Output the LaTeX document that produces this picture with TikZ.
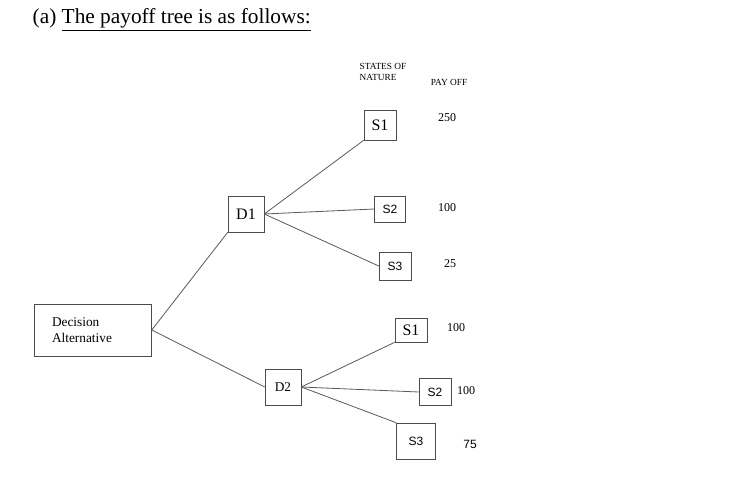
\documentclass[tikz,border=0pt]{standalone}
\usepackage{fontspec}
\setmainfont{Liberation Serif}
\newfontfamily\sansf{Liberation Sans}
\begin{document}
\begin{tikzpicture}[x=0.75pt,y=-0.75pt,
 bx/.style={draw=black!70,fill=white,inner sep=0pt,font=\large},
 ln/.style={draw=black!65,line width=0.6pt},
 lab/.style={font=\small}]
\useasboundingbox (0,0) rectangle (755,484);
\node[anchor=west,font=\fontsize{16}{18}\selectfont] (t) at (28,20) {(a) \underline{The payoff tree is as follows:}};
\node[font=\scriptsize,align=left,inner sep=0pt] (sn) at (383,72) {STATES OF\\NATURE};
\node[font=\scriptsize,inner sep=0pt] (po) at (449,82) {PAY OFF};
\node[bx,minimum width=117*0.75pt,minimum height=52*0.75pt,align=left,text width=82*0.75pt,font=\normalsize] (da) at (93,330) {Decision\\Alternative};
\node[bx,minimum size=36*0.75pt] (d1) at (246,214) {D1};
\node[bx,minimum size=36*0.75pt,font=\normalsize] (d2) at (283,387) {D2};
\node[bx,minimum width=32*0.75pt,minimum height=30*0.75pt] (s1) at (380,125) {S1};
\node[bx,minimum width=31*0.75pt,minimum height=26*0.75pt,font=\sansf\small] (s2) at (390,209) {S2};
\node[bx,minimum width=32*0.75pt,minimum height=28*0.75pt,font=\sansf\small] (s3) at (395,266) {S3};
\node[bx,minimum width=32*0.75pt,minimum height=24*0.75pt] (t1) at (411,330) {S1};
\node[bx,minimum width=32*0.75pt,minimum height=27*0.75pt,font=\sansf\small] (t2) at (435,392) {S2};
\node[bx,minimum width=39*0.75pt,minimum height=36*0.75pt,font=\sansf\small] (t3) at (416,441) {S3};
\node[lab] (p1) at (447,118) {250};
\node[lab] (p2) at (447,208) {100};
\node[lab] (p3) at (450,264) {25};
\node[lab] (p4) at (456,328) {100};
\node[lab] (p5) at (466,391) {100};
\node[lab,font=\sansf\small] (p6) at (470,444) {75};
\draw[ln] (da.east) -- (d1.south west);
\draw[ln] (da.east) -- (d2.west);
\draw[ln] (d1.east) -- (s1.south west);
\draw[ln] (d1.east) -- (s2.west);
\draw[ln] (d1.east) -- (s3.west);
\draw[ln] (d2.east) -- (t1.south west);
\draw[ln] (d2.east) -- (t2.west);
\draw[ln] (d2.east) -- (t3.north west);
\end{tikzpicture}
\end{document}
